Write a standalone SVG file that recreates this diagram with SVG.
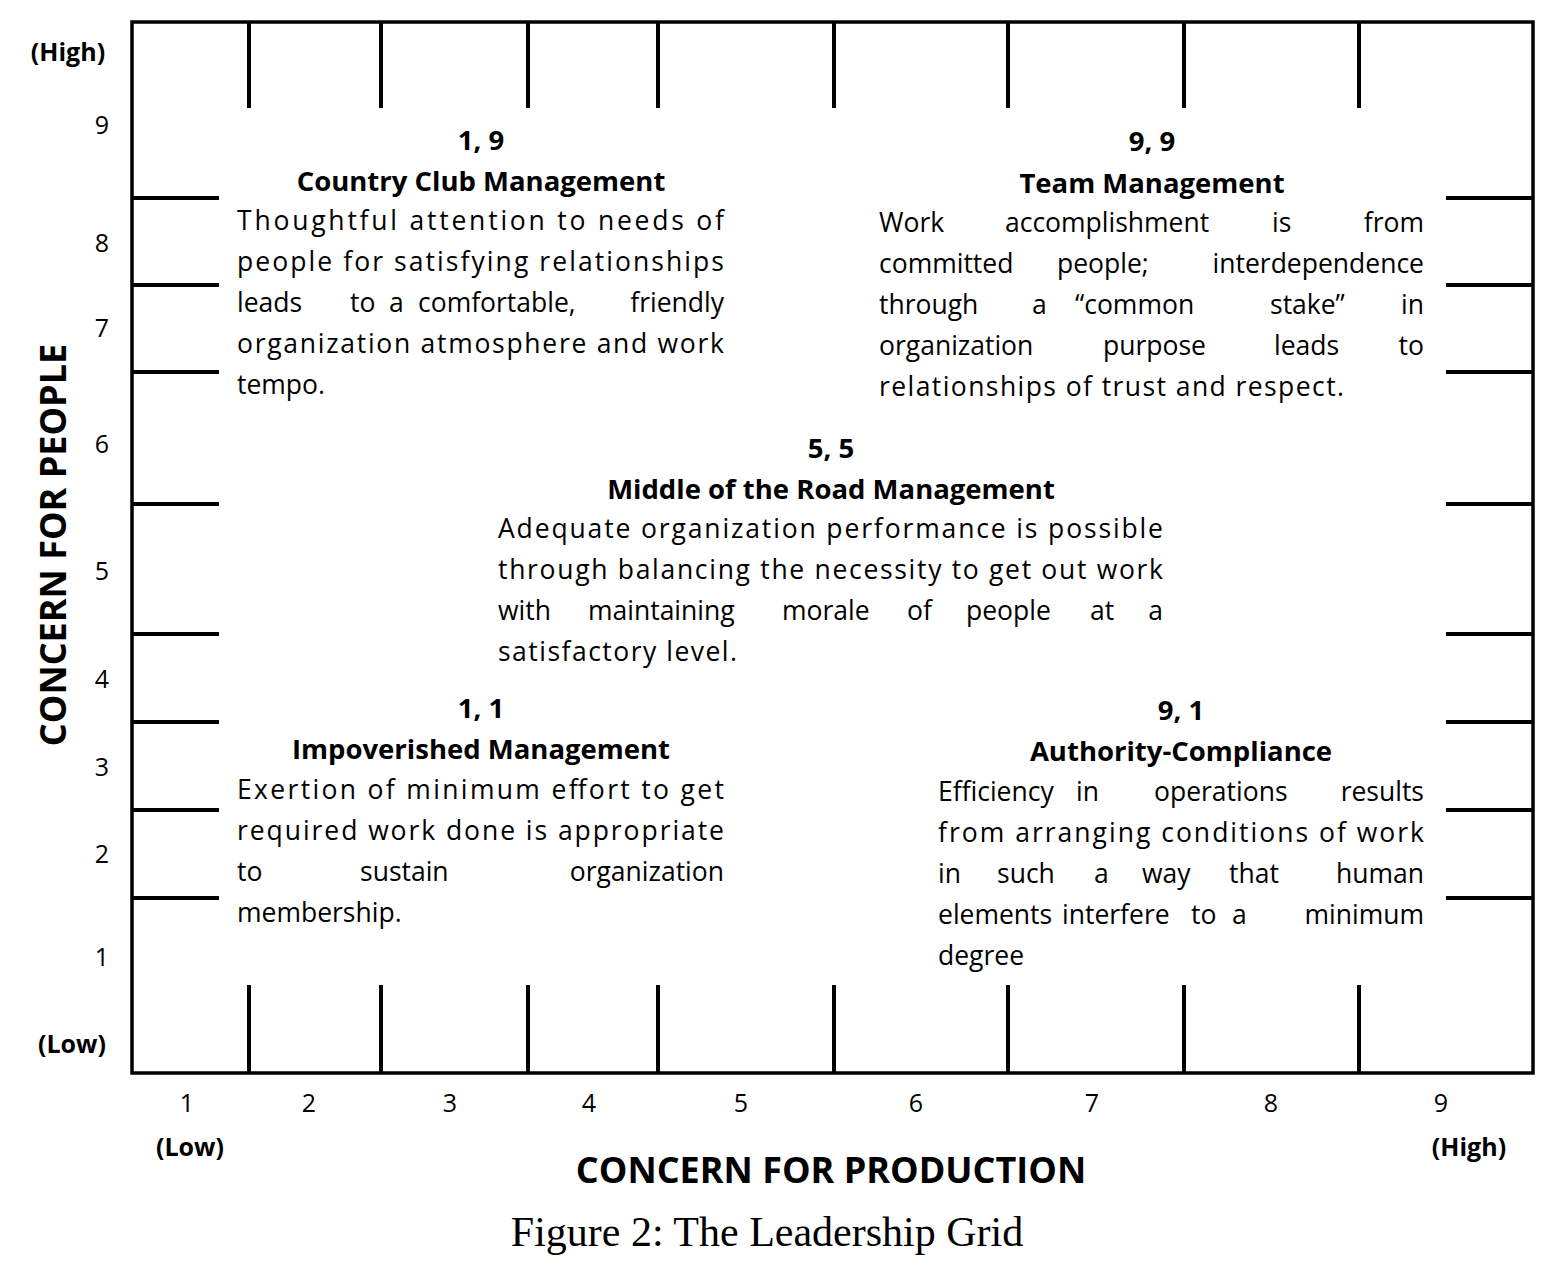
<svg xmlns="http://www.w3.org/2000/svg" width="1561" height="1269" viewBox="0 0 1561 1269">
<style>
.f{fill:none;stroke:#000;stroke-width:3.5}
.t{stroke:#000;stroke-width:4}
.b{font-family:"Open Sans","Liberation Sans",sans-serif;font-size:26.5px;fill:#000}
.e{text-anchor:end}
.h{font-family:"Open Sans","Liberation Sans",sans-serif;font-size:27.5px;font-weight:bold;fill:#000;text-anchor:middle}
.a{font-family:"Open Sans","Liberation Sans",sans-serif;font-size:25px;fill:#000;text-anchor:middle}
.ab{font-family:"Open Sans","Liberation Sans",sans-serif;font-size:25px;font-weight:bold;fill:#000;text-anchor:middle}
.ax{font-family:"Open Sans","Liberation Sans",sans-serif;font-size:36px;font-weight:bold;fill:#000;text-anchor:middle}
</style>
<rect width="1561" height="1269" fill="#fff"/>
<g id="grid">
<rect class="f" x="132" y="22" width="1401" height="1051"/>
<g class="t">
<path d="M249 22V108M381 22V108M528 22V108M658 22V108M834 22V108M1008 22V108M1184 22V108M1359 22V108"/>
<path d="M249 985V1073M381 985V1073M528 985V1073M658 985V1073M834 985V1073M1008 985V1073M1184 985V1073M1359 985V1073"/>
<path d="M132 198H219M132 285H219M132 372H219M132 504H219M132 634H219M132 722H219M132 810H219M132 898H219"/>
<path d="M1446 198H1533M1446 285H1533M1446 372H1533M1446 504H1533M1446 634H1533M1446 722H1533M1446 810H1533M1446 898H1533"/>
</g>
</g>
<g id="axes">
<text class="ab" x="68" y="61">(High)</text>
<text class="a" x="102" y="134">9</text>
<text class="a" x="102" y="252">8</text>
<text class="a" x="102" y="337">7</text>
<text class="a" x="102" y="453">6</text>
<text class="a" x="102" y="580">5</text>
<text class="a" x="102" y="688">4</text>
<text class="a" x="102" y="776">3</text>
<text class="a" x="102" y="863">2</text>
<text class="a" x="102" y="966">1</text>
<text class="ab" x="72" y="1053">(Low)</text>
<text class="a" x="187" y="1112">1</text>
<text class="a" x="309" y="1112">2</text>
<text class="a" x="450" y="1112">3</text>
<text class="a" x="589" y="1112">4</text>
<text class="a" x="741" y="1112">5</text>
<text class="a" x="916" y="1112">6</text>
<text class="a" x="1092" y="1112">7</text>
<text class="a" x="1271" y="1112">8</text>
<text class="a" x="1441" y="1112">9</text>
<text class="ab" x="190" y="1156">(Low)</text>
<text class="ab" x="1469" y="1156">(High)</text>
<text class="ax" x="831" y="1183">CONCERN FOR PRODUCTION</text>
<text class="ax" transform="translate(66 545) rotate(-90)">CONCERN FOR PEOPLE</text>
<text x="767" y="1246" font-family="Liberation Serif,serif" font-size="42" text-anchor="middle">Figure 2: The Leadership Grid</text>
</g>
<g id="n19">
<text class="h" x="481" y="150">1, 9</text>
<text class="h" x="481" y="191">Country Club Management</text>
<text class="b" x="237" y="230" textLength="487" lengthAdjust="spacing">Thoughtful attention to needs of</text>
<text class="b" x="237" y="271" textLength="487" lengthAdjust="spacing">people for satisfying relationships</text>
<text class="b" y="312"><tspan x="237">leads</tspan><tspan x="350">to</tspan><tspan x="389">a</tspan><tspan x="418">comfortable,</tspan><tspan class="e" x="724">friendly</tspan></text>
<text class="b" x="237" y="353" textLength="487" lengthAdjust="spacing">organization atmosphere and work</text>
<text class="b" x="237" y="394">tempo.</text>
</g>
<g id="n99">
<text class="h" x="1152" y="151">9, 9</text>
<text class="h" x="1152" y="193">Team Management</text>
<text class="b" y="232"><tspan x="879">Work</tspan><tspan x="1005">accomplishment</tspan><tspan x="1272">is</tspan><tspan class="e" x="1424">from</tspan></text>
<text class="b" y="273"><tspan x="879">committed</tspan><tspan x="1057">people;</tspan><tspan class="e" x="1424">interdependence</tspan></text>
<text class="b" y="314"><tspan x="879">through</tspan><tspan x="1032">a</tspan><tspan x="1075">“common</tspan><tspan x="1270">stake”</tspan><tspan class="e" x="1424">in</tspan></text>
<text class="b" y="355"><tspan x="879">organization</tspan><tspan x="1103">purpose</tspan><tspan x="1274">leads</tspan><tspan class="e" x="1424">to</tspan></text>
<text class="b" x="879" y="396" textLength="465" lengthAdjust="spacing">relationships of trust and respect.</text>
</g>
<g id="n55">
<text class="h" x="831" y="458">5, 5</text>
<text class="h" x="831" y="499">Middle of the Road Management</text>
<text class="b" x="498" y="538" textLength="665" lengthAdjust="spacing">Adequate organization performance is possible</text>
<text class="b" x="498" y="579" textLength="665" lengthAdjust="spacing">through balancing the necessity to get out work</text>
<text class="b" y="620"><tspan x="498">with</tspan><tspan x="588">maintaining</tspan><tspan x="782">morale</tspan><tspan x="907">of</tspan><tspan x="966">people</tspan><tspan x="1090">at</tspan><tspan class="e" x="1163">a</tspan></text>
<text class="b" x="498" y="661" textLength="239" lengthAdjust="spacing">satisfactory level.</text>
</g>
<g id="n11">
<text class="h" x="481" y="718">1, 1</text>
<text class="h" x="481" y="759">Impoverished Management</text>
<text class="b" x="237" y="799" textLength="487" lengthAdjust="spacing">Exertion of minimum effort to get</text>
<text class="b" x="237" y="840" textLength="487" lengthAdjust="spacing">required work done is appropriate</text>
<text class="b" y="881"><tspan x="237">to</tspan><tspan x="360">sustain</tspan><tspan class="e" x="724">organization</tspan></text>
<text class="b" x="237" y="922">membership.</text>
</g>
<g id="n91">
<text class="h" x="1181" y="720">9, 1</text>
<text class="h" x="1181" y="761">Authority-Compliance</text>
<text class="b" y="801"><tspan x="938">Efficiency</tspan><tspan x="1076">in</tspan><tspan x="1154">operations</tspan><tspan class="e" x="1424">results</tspan></text>
<text class="b" x="938" y="842" textLength="486" lengthAdjust="spacing">from arranging conditions of work</text>
<text class="b" y="883"><tspan x="938">in</tspan><tspan x="997">such</tspan><tspan x="1094">a</tspan><tspan x="1142">way</tspan><tspan x="1229">that</tspan><tspan class="e" x="1424">human</tspan></text>
<text class="b" y="924"><tspan x="938">elements</tspan><tspan x="1062">interfere</tspan><tspan x="1191">to</tspan><tspan x="1232">a</tspan><tspan class="e" x="1424">minimum</tspan></text>
<text class="b" x="938" y="965">degree</text>
</g>
<g id="connectors"/>
</svg>
